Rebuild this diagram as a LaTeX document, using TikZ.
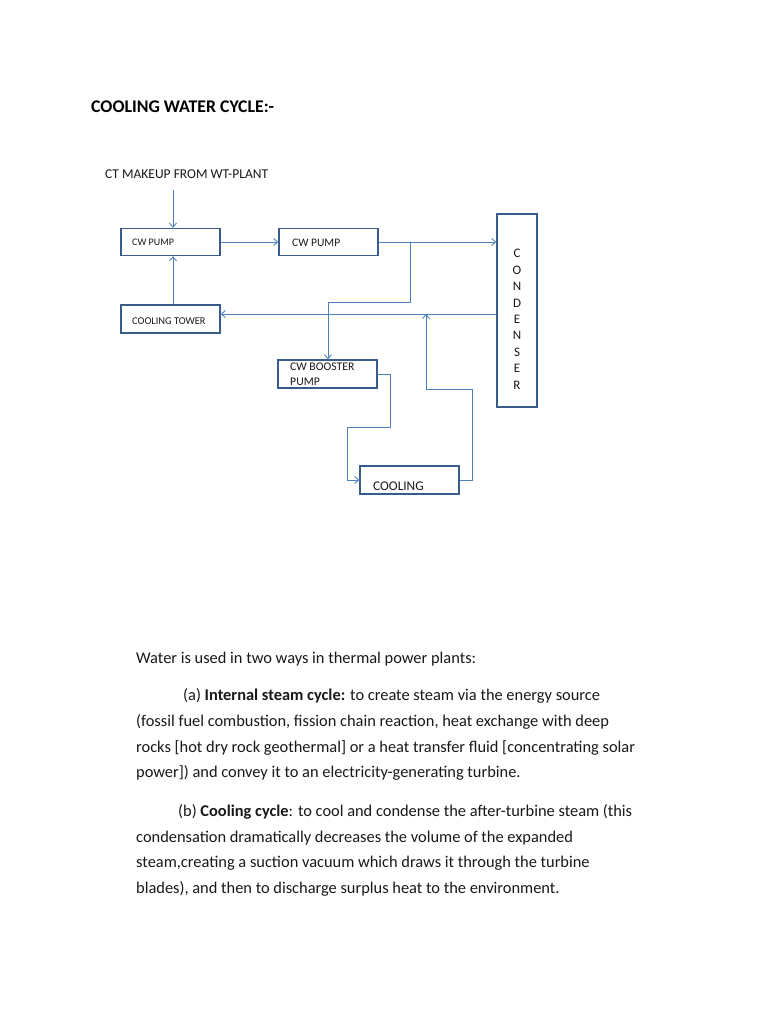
\documentclass[tikz,border=0pt]{standalone}
\usepackage{fontspec}
\setmainfont{Carlito}
\usetikzlibrary{arrows.meta}
\definecolor{linec}{RGB}{79,129,189}
\definecolor{boxc}{RGB}{56,93,138}
\definecolor{txt}{RGB}{25,25,25}
\begin{document}
\begin{tikzpicture}[x=1pt,y=-1pt,
  box/.style={draw=boxc,line width=1.4pt,inner sep=0pt,minimum width=99pt,minimum height=27pt},
  arr/.style={draw=linec,line width=0.9pt,-{Straight Barb[length=4pt,width=7pt]}},
  dtxt/.style={inner sep=0pt,anchor=west,text=txt},
  body/.style={inner sep=0pt,anchor=base west,text=txt,font=\fontsize{16.4}{20}\selectfont},
  cl/.style={inner sep=0pt,text=txt,font=\fontsize{13}{14}\selectfont}]
\fill[white] (0,0) rectangle (768,1024);
\useasboundingbox (0,0) rectangle (768,1024);

% title
\node[inner sep=0pt,anchor=base west,font=\bfseries\fontsize{17.8}{20}\selectfont] (title) at (91,113) {COOLING WATER CYCLE:-};
\node[inner sep=0pt,anchor=base west,text=txt,font=\fontsize{13.5}{15}\selectfont] (makeup) at (105,178.5) {CT MAKEUP FROM WT-PLANT};

% boxes
\node[box] (cw1) at (170.5,242) {};
\node[box] (cw2) at (328.5,242) {};
\node[box,minimum height=28pt] (ct) at (170.5,319) {};
\node[box,minimum height=28pt] (boost) at (327.5,374) {};
\node[box,minimum height=28pt] (cool) at (409.5,480) {};
\node[box,minimum width=40pt,minimum height=193pt] (cond) at (517,310.5) {};

% box texts
\node[dtxt,font=\fontsize{10}{11}\selectfont] (t1) at (132,242.5) {CW PUMP};
\node[dtxt,font=\fontsize{11.5}{12}\selectfont] (t2) at (292,243) {CW PUMP};
\node[dtxt,font=\fontsize{10.4}{11}\selectfont] (t3) at (132,321.5) {COOLING TOWER};
\node[dtxt,font=\fontsize{11.7}{12}\selectfont] (t4) at (290,366.5) {CW BOOSTER};
\node[dtxt,font=\fontsize{11.7}{12}\selectfont] (t5) at (290,381.5) {PUMP};
\node[dtxt,font=\fontsize{13.3}{14}\selectfont] (t6) at (373,486.5) {COOLING};

\foreach \l/\yy [count=\i] in {C/253,O/270,N/286,D/303,E/319,N/335,S/352,E/368,R/385}
  \node[cl] (c\i) at (517,\yy) {\l};

% connectors
\coordinate (mk) at (173,190);
\draw[arr] (mk) -- (mk |- cw1.north);
\draw[arr] (mk |- ct.north) -- (mk |- cw1.south);
\draw[arr] (cw1.east) -- (cw2.west);
\draw[arr] (cw2.east) -- (cw2.east -| cond.west);
\coordinate (j1) at (410,242);
\coordinate (b1) at (328,302);
\draw[arr] (j1) |- (b1) -- (b1 |- boost.north);
\coordinate (r1) at (497,314);
\draw[arr] (r1 -| cond.west) -- (r1 -| ct.east);
\coordinate (c1) at (390,427);
\coordinate (c2) at (347,427);
\draw[arr] (boost.east) -| (c1) -- (c2) |- (cool.west);
\coordinate (c3) at (472,389);
\coordinate (c4) at (426,314);
\draw[arr] (cool.east) -| (c3) -| (c4);

% body text
\node[body] (p0) at (136,663) {Water is used in two ways in thermal power plants:};
\node[body] (a1) at (183,700) {(a) \textbf{Internal steam cycle:} to create steam via the energy source};
\node[body] (a2) at (136,726) {(fossil fuel combustion, fission chain reaction, heat exchange with deep};
\node[body] (a3) at (136,752) {rocks [hot dry rock geothermal] or a heat transfer fluid [concentrating solar};
\node[body] (a4) at (136,777) {power]) and convey it to an electricity-generating turbine.};
\node[body] (b1t) at (178,816) {(b) \textbf{Cooling cycle}: to cool and condense the after-turbine steam (this};
\node[body] (b2) at (136,842) {condensation dramatically decreases the volume of the expanded};
\node[body] (b3) at (136,867) {steam,creating a suction vacuum which draws it through the turbine};
\node[body] (b4) at (136,893) {blades), and then to discharge surplus heat to the environment.};
\end{tikzpicture}
\end{document}
